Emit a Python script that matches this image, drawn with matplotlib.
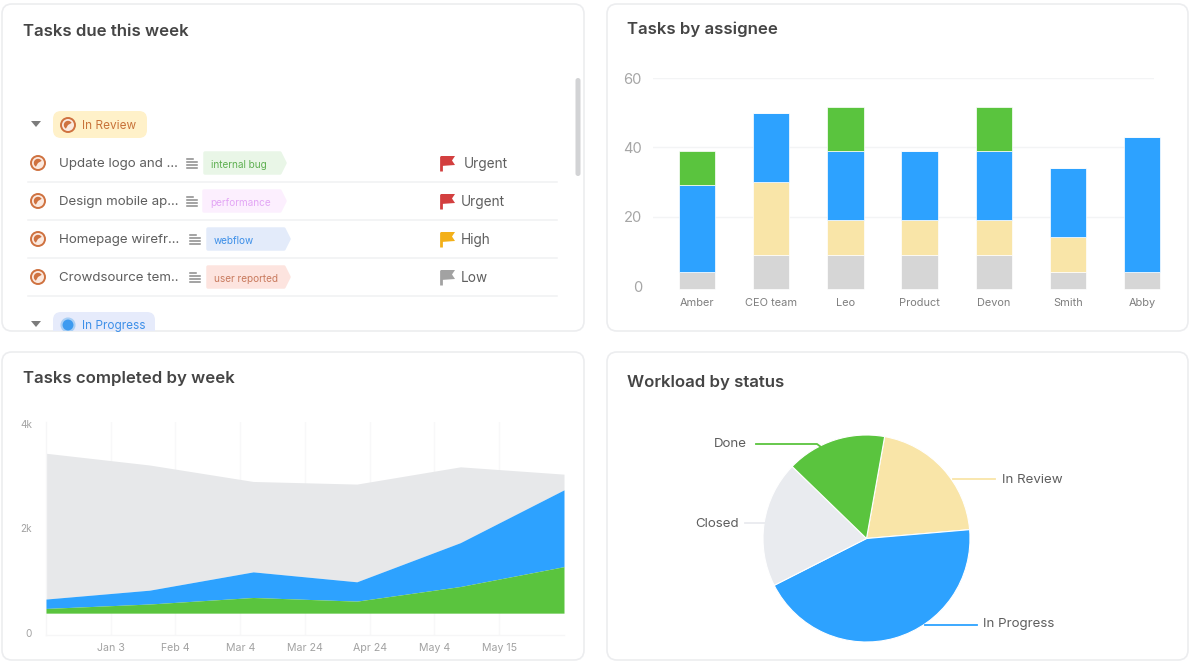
import matplotlib
matplotlib.use("Agg")
import matplotlib.pyplot as plt
from matplotlib.patches import Circle, FancyBboxPatch, Polygon, Wedge
import numpy as np

W, H = 1191, 661
plt.rcParams["font.family"] = ["Inter", "DejaVu Sans"]

# Tasks table
TASKS = ["Update logo and ...", "Design mobile ap...", "Homepage wirefr...", "Crowdsource tem.."]
TAGS = ["internal bug", "performance", "webflow", "user reported"]
PRIORITIES = ["Urgent", "Urgent", "High", "Low"]

# Tasks by assignee
ASSIGNEES = ["Amber", "CEO team", "Leo", "Product", "Devon", "Smith", "Abby"]
CLOSED_TASKS = [4, 9, 9, 9, 9, 4, 4]
REVIEW_TASKS = [0, 21, 10, 10, 10, 10, 0]
PROGRESS_TASKS = [25, 20, 20, 20, 20, 20, 39]
DONE_TASKS = [10, 0, 12.5, 0, 12.5, 0, 0]
ASSIGNEE_TICKS = [0, 20, 40, 60]

# Tasks completed by week (cumulative band tops)
WEEK_POS = [0, 1.6, 3.2, 4.8, 6.4, 8]
AREA_BASE = [380, 380, 380, 380, 380, 380]
DONE_TOP = [470, 555, 680, 610, 890, 1270]
PROGRESS_TOP = [650, 820, 1170, 980, 1730, 2740]
CLOSED_TOP = [3440, 3215, 2900, 2850, 3180, 3040]
WEEK_LABELS = ["Jan 3", "Feb 4", "Mar 4", "Mar 24", "Apr 24", "May 4", "May 15"]
COUNT_TICKS = [0, 2000, 4000]
COUNT_LABELS = ["0", "2k", "4k"]

# Workload by status
STATUS_LABELS = ["In Review", "In Progress", "Closed", "Done"]
STATUS_VALUES = [75, 158, 71, 56]

GREEN, BLUE, CREAM = "#5AC43E", "#2DA2FF", "#F9E5A8"
BAR_GREY, AREA_GREY, PIE_GREY = "#D6D6D6", "#E7E8EA", "#E9EBEF"
TITLE = "#454545"
BODY = "#5E5E5E"

fig = plt.figure(figsize=(W / 100, H / 100), dpi=100, facecolor="white")


def px_axes(x0, y0, x1, y1, **kw):
    """Axes placed by pixel box, y measured from the top of the figure."""
    return fig.add_axes([x0 / W, 1 - y1 / H, (x1 - x0) / W, (y1 - y0) / H], **kw)


# Background layer in pixel coordinates: cards, titles and the task table
bg = px_axes(0, 0, W, H, zorder=0)
bg.set_xlim(0, W)
bg.set_ylim(H, 0)
bg.axis("off")


def card(x0, y0, x1, y1):
    p = FancyBboxPatch((x0, y0), x1 - x0, y1 - y0, boxstyle="round,pad=0,rounding_size=10",
                       fc="white", ec="#ECEDEF", lw=1.2)
    bg.add_patch(p)
    return p


table_card = card(2, 4, 584, 331)
card(607, 4, 1188, 331)
card(2, 352, 584, 660)
card(607, 352, 1188, 660)

for x, y, s in [(23, 32, "Tasks due this week"), (627, 29, "Tasks by assignee"),
                (23, 378, "Tasks completed by week"), (627, 382, "Workload by status")]:
    bg.text(x, y, s, fontsize=12.1, fontweight=600, color=TITLE, va="center", ha="left")

# Scrollbar
bg.add_patch(FancyBboxPatch((575.5, 78), 5, 98, boxstyle="round,pad=0,rounding_size=2.5",
                            fc="#D2D3D5", ec="none"))


def chevron(x, y):
    bg.add_patch(Polygon([(x - 5, y - 3), (x + 5, y - 3), (x, y + 3)], fc="#7C7C7C", ec="none"))


def status_icon(x, y, color, pale):
    bg.add_patch(Circle((x, y), 7, fc=pale, ec=color, lw=1.4))
    bg.add_patch(Wedge((x, y), 4.2, 120, 330, fc=color, ec="none"))


def group_pill(x0, x1, y0, y1, fc):
    bg.add_patch(FancyBboxPatch((x0, y0), x1 - x0, y1 - y0, boxstyle="round,pad=0,rounding_size=8",
                                fc=fc, ec="none"))


def tag_pill(x0, x1, y0, y1, fc):
    ym = (y0 + y1) / 2
    bg.add_patch(Polygon([(x0, y0), (x1 - 5, y0), (x1, ym), (x1 - 5, y1), (x0, y1)], closed=True,
                         fc=fc, ec=fc, lw=2.5, joinstyle="round"))


def flag(x, y, color):
    bg.plot([x, x], [y - 7, y + 8], color=color, lw=2, solid_capstyle="butt")
    bg.add_patch(Polygon([(x, y - 7), (x + 14, y - 7), (x + 11, y - 2.5), (x + 14, y + 2), (x, y + 3)],
                         fc=color, ec="none"))


def doc_icon(x, y):
    for dy, half in zip((-5, -2, 1, 4), (3, 5, 5, 5)):
        bg.plot([x - 5, x - 5 + 2 * half], [y + dy, y + dy], color="#8A8A8A", lw=1.1)


ROW_Y = [163, 201, 239, 277]
DOC_X = [192, 192, 195, 195]
TAG_X = [(205, 287), (204, 287), (208, 291), (208, 291)]
TAG_FILL = ["#E9F6E7", "#FCEFFE", "#E3EBFA", "#FDE4DF"]
TAG_TEXT = ["#5FB052", "#E3A6F5", "#3D8FE8", "#C97B5F"]
FLAG_COLOR = {"Urgent": "#D33F3F", "High": "#F3B019", "Low": "#A2A2A2"}
PRIORITY_X = [464, 461, 461, 461]

chevron(36, 124)
group_pill(53, 147, 111, 138, "#FFF1C9")
status_icon(68, 125, "#CF7240", "#FBE9DF")
bg.text(82, 126, "In Review", fontsize=8.5, color="#C8733A", va="center")

for i, name in enumerate(TASKS):
    y = ROW_Y[i]
    status_icon(38, y, "#CF7240", "#FBE9DF")
    bg.text(59, y + 1, name, fontsize=9.6, color=BODY, va="center")
    doc_icon(DOC_X[i], y + 1)
    tag_pill(TAG_X[i][0], TAG_X[i][1] - 2, y - 10, y + 10, TAG_FILL[i])
    bg.text(TAG_X[i][0] + 6, y + 2, TAGS[i], fontsize=7.2, color=TAG_TEXT[i], va="center")
    flag(441, y, FLAG_COLOR[PRIORITIES[i]])
    bg.text(PRIORITY_X[i], y + 1, PRIORITIES[i], fontsize=9.8, color=BODY, va="center")
    bg.plot([28, 557], [y + 19, y + 19], color="#F0F1F2", lw=1.1)

# Next group, cut off by the card's lower edge
chevron(36, 324)
progress_pill = FancyBboxPatch((53, 312), 102, 30, boxstyle="round,pad=0,rounding_size=8",
                               fc="#E6EBFB", ec="none")
bg.add_patch(progress_pill)
progress_pill.set_clip_path(table_card)
ring = Circle((68, 325), 6.5, fc="#3D9BF0", ec="#A9CFF5", lw=1.5)
bg.add_patch(ring)
ring.set_clip_path(table_card)
t = bg.text(82, 326, "In Progress", fontsize=8.5, color="#3D8FE8", va="center", clip_on=True)
t.set_clip_path(table_card)

# Stacked bars
bar_ax = px_axes(653, 78, 1153.5, 290, zorder=1)
bar_ax.patch.set_alpha(0)
PITCH = 74.2
CENTER0 = 697
bar_ax.set_xlim((653 - CENTER0) / PITCH, (1153.5 - CENTER0) / PITCH)
bar_ax.set_ylim(-1.15, 60)
xs = np.arange(len(ASSIGNEES))
BASE = -1.0
closed = np.array(CLOSED_TASKS, float)
review = np.array(REVIEW_TASKS, float)
progress = np.array(PROGRESS_TASKS, float)
done = np.array(DONE_TASKS, float)
bw = 36.5 / PITCH
kw = dict(width=bw, clip_on=False, zorder=3, edgecolor="white", linewidth=0.5)
bar_ax.bar(xs, closed - BASE, bottom=BASE, color=BAR_GREY, **kw)
bar_ax.bar(xs, review, bottom=closed, color=CREAM, **kw)
bar_ax.bar(xs, progress, bottom=closed + review, color=BLUE, **kw)
bar_ax.bar(xs, done, bottom=closed + review + progress, color=GREEN, **kw)
for s in bar_ax.spines.values():
    s.set_visible(False)
bar_ax.set_yticks(ASSIGNEE_TICKS)
bar_ax.set_xticks(xs, ASSIGNEES)
bar_ax.tick_params(axis="y", length=0, pad=8, labelsize=10.6, labelcolor="#A6A6A6")
bar_ax.tick_params(axis="x", length=0, pad=6, labelsize=7.9, labelcolor="#7E7E7E")
for g in ASSIGNEE_TICKS[1:]:
    bar_ax.axhline(g, color="#F3F4F5", lw=1, zorder=1)

# Stacked area
area_ax = px_axes(46, 422, 564, 635, zorder=1)
area_ax.patch.set_alpha(0)
area_ax.set_xlim(0, 8)
area_ax.set_ylim(-38, 4038)
area_ax.fill_between(WEEK_POS, PROGRESS_TOP, CLOSED_TOP, color=AREA_GREY, lw=0, zorder=2)
area_ax.fill_between(WEEK_POS, DONE_TOP, PROGRESS_TOP, color=BLUE, lw=0, zorder=3)
area_ax.fill_between(WEEK_POS, AREA_BASE, DONE_TOP, color=GREEN, lw=0, zorder=4)
for s in area_ax.spines.values():
    s.set_color("#F6F6F7")
    s.set_linewidth(1)
area_ax.spines["right"].set_visible(False)
area_ax.spines["top"].set_visible(False)
area_ax.set_xticks(range(1, 8), WEEK_LABELS)
area_ax.set_yticks(COUNT_TICKS, COUNT_LABELS)
area_ax.tick_params(axis="x", length=0, pad=6, labelsize=7.6, labelcolor="#A2A2A2")
area_ax.tick_params(axis="y", length=0, pad=10, labelsize=7.2, labelcolor="#A2A2A2")
area_ax.grid(axis="x", color="#F8F8F9", lw=1, zorder=1)

# Pie
pie_ax = px_axes(866.5 - 103.5, 538.5 - 103.5, 866.5 + 103.5, 538.5 + 103.5, zorder=1)
pie_ax.pie(STATUS_VALUES, colors=[CREAM, BLUE, PIE_GREY, GREEN], startangle=79.9, counterclock=False,
           wedgeprops=dict(edgecolor="white", linewidth=0.8))
pie_ax.set_xlim(-1, 1)
pie_ax.set_ylim(-1, 1)

# Pie leader lines and labels, above everything else
top = px_axes(0, 0, W, H, zorder=2)
top.set_xlim(0, W)
top.set_ylim(H, 0)
top.axis("off")
top.patch.set_alpha(0)
top.plot([756, 817, 821], [444, 444, 447], color=GREEN, lw=1.3)
top.plot([953, 995], [479, 479], color=CREAM, lw=1.3)
top.plot([925, 977], [625, 625], color=BLUE, lw=1.3)
top.plot([745, 765], [523, 523], color=PIE_GREY, lw=1.3)
LABEL_POS = {"Done": (714, 444), "In Review": (1002, 480), "In Progress": (983, 624), "Closed": (695, 524)}
for label in STATUS_LABELS:
    x, y = LABEL_POS[label]
    top.text(x, y, label, fontsize=9.6, color=BODY, va="center", ha="left")

fig.savefig("out.png", dpi=100)
